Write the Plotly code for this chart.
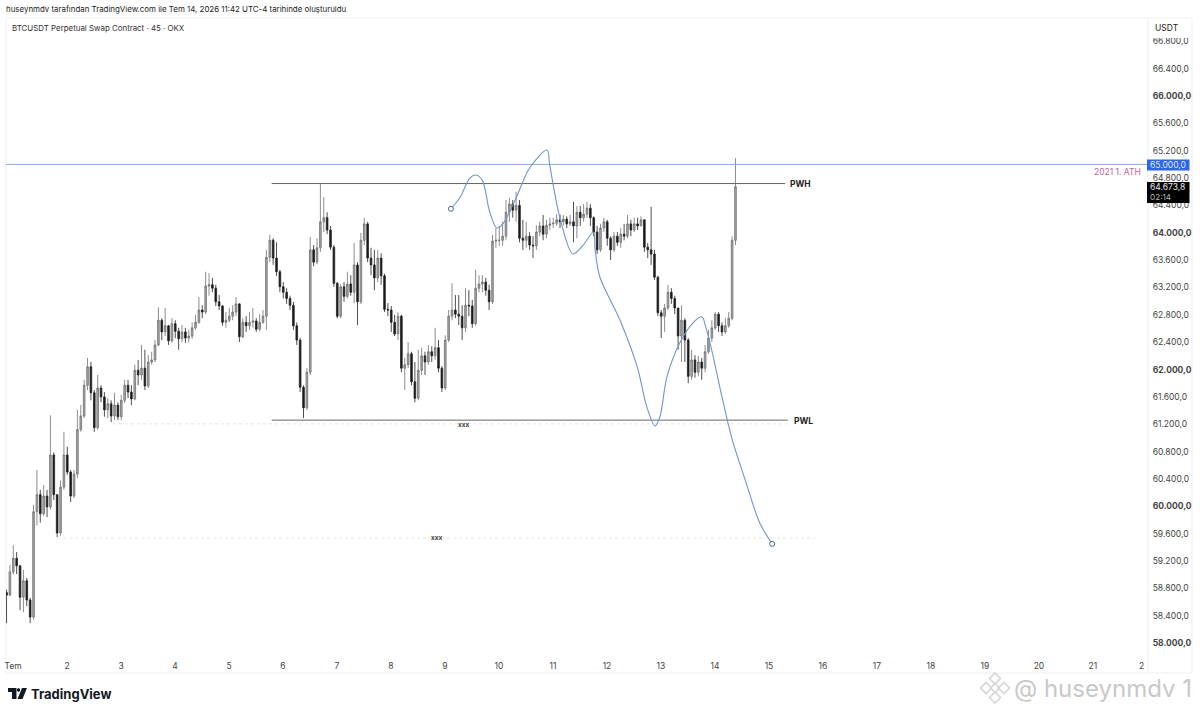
import plotly.graph_objects as go

# 90-minute candles (first candle at day 0.88, step 1/16 day)
first_day = 0.88
bars_per_day = 16
close = [
58700,59040,59240,59130,58670,58910,58630,58380,59920,60170,
59890,60150,59990,60750,60170,59610,60280,60750,60500,60150,
60470,61120,61320,61770,62040,61660,61150,61730,61600,61410,
61500,61320,61480,61310,61550,61770,61670,61570,61990,61920,
62020,61760,62110,62140,62360,62720,62550,62640,62420,62670,
62560,62450,62550,62460,62490,62610,62690,62870,62840,63220,
63240,63190,62990,62930,62690,62720,62780,62840,62960,62480,
62690,62640,62690,62710,62590,62690,62780,63640,63890,63630,
63430,63210,63130,63040,62940,62640,62430,61740,61440,61960,
63750,63570,63780,64160,64220,64040,63790,63260,62780,63210,
63070,63250,63130,63530,62990,63890,64130,63630,63530,63340,
63630,63370,62880,62870,62690,62520,62780,62020,62070,62230,
61820,61580,61990,62200,62110,62260,62200,62320,62020,61730,
62430,62780,62870,62810,62780,62610,62940,62930,62670,63190,
63250,63280,63160,62990,63880,63890,63890,63950,64300,64420,
64330,64400,63920,63890,63950,63820,63810,64010,64100,63980,
64110,64130,64140,64190,64160,64200,64130,64160,64100,64300,
64220,64270,64360,64220,64010,63750,64070,64160,63920,63750,
63950,63860,63980,63950,64130,64040,64130,64100,64190,63790,
63750,63690,63350,62830,62780,62900,63130,63040,62900,62490,
62720,62430,61900,62140,61960,62110,62020,62260,62460,62610,
62810,62640,62550,62640,62750,63890,64673.8]
high = [
58780,59140,59430,59330,59070,59070,58950,58660,60020,60530,
60240,60310,60240,61330,60790,60020,60380,61090,60870,60530,
60530,61410,61480,61850,62170,62110,61700,61920,61770,61670,
61580,61550,61660,61520,61630,61850,61850,61770,62070,62140,
62360,62290,62210,62260,62430,62910,62750,62900,62650,62750,
62720,62610,62650,62610,62580,62690,62800,63060,62940,63430,
63410,63340,63240,63090,62940,62840,62900,62940,63060,62970,
62750,62780,62840,62900,62750,62810,62870,63750,63970,63920,
63860,63460,63280,63190,63080,62990,62690,62460,61770,62020,
63940,63820,63920,64720,64520,64300,64100,63820,63280,63250,
63280,63430,63380,63850,63570,64000,64220,64160,63780,63750,
63750,63700,63400,62970,62930,62800,62840,62800,62170,62400,
62260,62110,62290,62320,62260,62360,62340,62610,62430,62050,
62500,62870,63260,63090,63090,62940,63190,63160,63020,63460,
63380,63380,63340,63240,63970,64070,64100,64160,64480,64510,
64480,64600,64480,64190,64160,64010,63950,64110,64160,64260,
64190,64220,64220,64270,64270,64260,64240,64260,64450,64390,
64390,64420,64450,64420,64240,64100,64130,64220,64190,63950,
64010,64010,64070,64130,64260,64190,64220,64220,64240,64190,
63850,64380,63750,63370,62870,62960,63240,63190,63080,62900,
62940,62750,62460,62290,62210,62200,62170,62360,62580,62720,
62840,62840,62690,62750,62840,63950,65090]
low = [
58290,58750,59000,59010,58480,58450,58540,58290,58340,59720,
59760,59860,59840,59950,60090,59550,59570,60240,60460,60060,
60120,60410,61090,61290,61700,61550,61090,61120,61520,61310,
61290,61230,61260,61260,61260,61510,61580,61480,61550,61770,
61850,61700,61730,62070,62110,62340,62430,62490,62360,62390,
62460,62290,62400,62390,62400,62450,62580,62670,62750,62810,
63080,63130,62930,62870,62640,62610,62690,62720,62780,62400,
62460,62550,62580,62610,62550,62560,62670,62580,63570,63530,
63370,63130,63040,62960,62870,62580,62360,61670,61290,61410,
61920,63510,63540,63720,64010,63980,63750,63210,62750,62750,
62990,63040,63080,62970,62650,62960,63820,63570,63380,63160,
63280,63240,62840,62780,62550,62490,62430,61960,61700,62020,
61770,61520,61550,61920,61920,62070,62110,62140,61960,61670,
61700,62400,62720,62750,62650,62430,62550,62780,62610,62640,
63130,63130,63080,62870,62960,63780,63810,63810,63890,64160,
64220,64160,63860,63750,63780,63750,63630,63750,63950,63890,
63920,64040,64070,64100,64070,64110,64070,64100,63860,63920,
64100,64160,64220,64100,63950,63690,63720,64010,63810,63600,
63720,63810,63780,63890,63920,63950,64010,64040,64100,63720,
63630,63530,63310,62780,62460,62550,62870,62960,62810,62290,
62110,62110,61800,61850,61880,61900,61850,61960,62230,62400,
62580,62550,62490,62520,62610,62720,63820]

path_days = [9.11,9.28,9.46,9.57,9.69,9.83,9.96,10.07,10.30,10.57,10.89,10.94,11.13,11.37,11.56,11.75,
             11.78,11.87,12.24,12.56,12.74,12.89,12.98,13.11,13.35,13.59,13.76,13.83,13.94,14.13,14.31,14.56,14.83,15.06]
path_prices = [64350,64520,64800,64845,64770,64300,64070,64130,64480,64950,65210,64990,64215,63690,63820,64010,
               63750,63350,62725,62040,61450,61175,61305,61890,62390,62680,62770,62620,62285,61600,61000,60385,59755,59450]

ath_price = 65000
pwh_price, pwh_days = 64720, [5.79, 15.3]
pwl_price, pwl_days = 61260, [5.79, 15.35]
xxx1_price, xxx1_days = 61205, [2.85, 15.35]
xxx2_price, xxx2_days = 59535, [1.82, 15.85]

price_labels = ["58.000,0","58.400,0","58.800,0","59.200,0","59.600,0","60.000,0","60.400,0","60.800,0",
                "61.200,0","61.600,0","62.000,0","62.400,0","62.800,0","63.200,0","63.600,0","64.000,0",
                "64.400,0","64.800,0","65.200,0","65.600,0","66.000,0","66.400,0","66.800,0"]
price_vals = [58000,58400,58800,59200,59600,60000,60400,60800,61200,61600,62000,62400,62800,63200,63600,64000,
              64400,64800,65200,65600,66000,66400,66800]
bold_prices = {58000,60000,62000,64000,66000}
day_ticks = [1,2,3,4,5,6,7,8,9,10,11,12,13,14,15,16,17,18,19,20,21,21.9]
day_labels = ["Tem","2","3","4","5","6","7","8","9","10","11","12","13","14","15","16","17","18","19","20","21","2"]

W, H = 1200, 713
L, R, T, B = 6, 1148, 18, 655
px = lambda x: (x - L) / (R - L)
py = lambda y: 1 - (y - T) / (B - T)
FONT = "Inter, Roboto, sans-serif"
BLUE = "#7494d0"

days = [first_day + i / bars_per_day for i in range(len(close))]
opens = [close[0] + 40] + close[:-1]

fig = go.Figure()
fig.add_trace(go.Candlestick(
    x=days, open=opens, high=high, low=low, close=close,
    increasing=dict(line=dict(color="#707070", width=0.8), fillcolor="#a8a8a8"),
    decreasing=dict(line=dict(color="#222222", width=0.8), fillcolor="#1a1a1a"),
    whiskerwidth=0, showlegend=False, hoverinfo="skip"))

def hline(days_, price, color, width, dash="solid"):
    fig.add_trace(go.Scatter(x=days_, y=[price, price], mode="lines",
                             line=dict(color=color, width=width, dash=dash),
                             showlegend=False, hoverinfo="skip"))

hline([0.8, 22.1], ath_price, "#8ea8dc", 1)
hline(pwh_days, pwh_price, "#666666", 1)
hline(pwl_days, pwl_price, "#666666", 1)
hline(xxx1_days, xxx1_price, "#f3dede", 1, "dot")
hline(xxx2_days, xxx2_price, "#f3dede", 1, "dot")

fig.add_trace(go.Scatter(x=path_days, y=path_prices, mode="lines",
                         line=dict(color=BLUE, width=1.1, shape="spline", smoothing=0.9),
                         showlegend=False, hoverinfo="skip"))
fig.add_trace(go.Scatter(x=[path_days[0], path_days[-1]], y=[path_prices[0], path_prices[-1]], mode="markers",
                         marker=dict(size=5, color="white", line=dict(color="#44699f", width=1)),
                         showlegend=False, hoverinfo="skip"))

def label(x, y, text, size=8.5, color="#333333", anchor="left"):
    fig.add_annotation(xref="paper", yref="paper", x=px(x), y=py(y), text=text, showarrow=False,
                       xanchor=anchor, yanchor="middle", borderpad=0, borderwidth=0,
                       font=dict(family=FONT, size=size, color=color))

def box(x0, y0, x1, y1, fill, line=None):
    fig.add_shape(type="rect", xref="paper", yref="paper", x0=px(x0), x1=px(x1), y0=py(y0), y1=py(y1),
                  fillcolor=fill, line=dict(width=0 if line is None else 1, color=line or fill), layer="above")

def poly(points, fill=None, line=None, width=1):
    d = "M " + " L ".join(f"{px(a):.5f},{py(b):.5f}" for a, b in points) + " Z"
    fig.add_shape(type="path", xref="paper", yref="paper", path=d, layer="above",
                  fillcolor=fill or "rgba(0,0,0,0)", line=dict(width=width if line else 0, color=line or "rgba(0,0,0,0)"))

# frame lines
for xa, ya, xb, yb in [(6, 18, 1192, 18), (6, 673, 1192, 673), (6, 18, 6, 673), (1148, 18, 1148, 673), (1192, 18, 1192, 673)]:
    fig.add_shape(type="line", xref="paper", yref="paper", x0=px(xa), x1=px(xb), y0=py(ya), y1=py(yb),
                  line=dict(color="#efefef", width=1), layer="below")

box(1149, 19, 1191, 38, "white")
box(1147, 159.5, 1189.5, 170.5, "#2f66e6")
box(1147, 182, 1189.5, 203, "#000000")

label(6, 9, "huseynmdv tarafından TradingView.com ile Tem 14, 2026 11:42 UTC-4 tarihinde oluşturuldu", 7.9, "#222222")
label(12, 28, "BTCUSDT Perpetual Swap Contract · 45 · OKX", 7.9, "#333333")
label(1155, 28, "USDT", 8.5, "#222222")
label(1150.5, 165, "65.000,0", 8.5, "#dfe8ff")
label(1150.5, 187, "64.673,8", 8.5, "#e8e8e8")
label(1150.5, 196.5, "02:14", 8.2, "#b5b5b5")
label(1094, 172, "2021 1. ATH", 8.5, "#c2639a")
label(790, 184, "<b>PWH</b>", 8.5, "#222222")
label(794, 420.5, "<b>PWL</b>", 8.5, "#222222")
label(458, 424.5, "<b>xxx</b>", 6.5, "#444444")
label(431, 538, "<b>xxx</b>", 6.5, "#444444")
label(31, 693.5, "<b>TradingView</b>", 13, "#131722")
label(1014, 688.5, "@ huseynmdv 1", 24, "#c9c9c9")

# TradingView mark
poly([(8, 688), (16.5, 688), (16.5, 699), (12, 699), (12, 692), (8, 692)], fill="#131722")
poly([(17, 689), (18.5, 688), (20, 689), (20, 691), (18.5, 692), (17, 691)], fill="#131722")
poly([(22, 688), (27, 688), (22.5, 699), (17.5, 699)], fill="#131722")

# watermark mark
for cx, cy, r in [(995, 678.5, 5.5), (986, 688, 5.5), (1004, 688, 5.5), (995, 697.5, 5.5), (995, 688, 4.5)]:
    poly([(cx, cy - r), (cx + r, cy), (cx, cy + r), (cx - r, cy)], line="#d6d6d6", width=1.6)

fig.update_layout(
    width=W, height=H, paper_bgcolor="white", plot_bgcolor="white",
    margin=dict(l=L, r=W - R, t=T, b=H - B, pad=0, autoexpand=False),
    font=dict(family=FONT, size=8.5, color="#444444"),
    hovermode=False,
    xaxis=dict(range=[0.87, 22.02], rangeslider=dict(visible=False), showgrid=False, zeroline=False,
               showline=False, tickmode="array", tickvals=day_ticks, ticktext=day_labels,
               ticks="outside", ticklen=3, tickcolor="white", tickfont=dict(size=8.5, color="#444444")),
    yaxis=dict(range=[57825, 67141], side="right", showgrid=False, zeroline=False, showline=False,
               tickmode="array", tickvals=price_vals,
               ticktext=[f"<b>{t}</b>" if v in bold_prices else t for v, t in zip(price_vals, price_labels)],
               ticks="outside", ticklen=2, tickcolor="white", tickfont=dict(size=8.5, color="#444444")),
)

fig.write_html("out.html", config=dict(displayModeBar=False, responsive=False),
               post_script="document.body.style.margin='0';document.documentElement.style.overflow='hidden';")
